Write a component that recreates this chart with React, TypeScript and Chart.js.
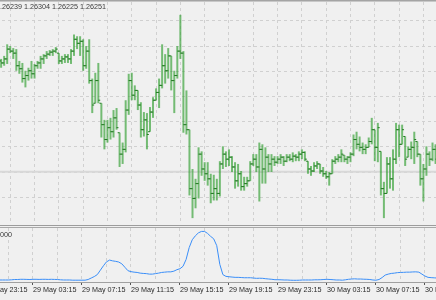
import React, { useEffect, useRef } from 'react';
import { Chart, registerables } from 'chart.js';

Chart.register(...registerables);

// ---- price bars (M15), index 0 = 29 May 00:30 ----
const HIGHS = [
  1.26699, 1.26711, 1.26757, 1.26750, 1.26742, 1.26738, 1.26691, 1.26683, 1.26652, 1.26664,
  1.26691, 1.26679, 1.26691, 1.26711, 1.26718, 1.26730, 1.26734, 1.26738, 1.26746, 1.26722,
  1.26711, 1.26718, 1.26718, 1.26738, 1.26796, 1.26789, 1.26789, 1.26777, 1.26750, 1.26777,
  1.26621, 1.26644, 1.26683, 1.26523, 1.26457, 1.26457, 1.26465, 1.26496, 1.26504, 1.26406,
  1.26367, 1.26535, 1.26640, 1.26644, 1.26594, 1.26574, 1.26527, 1.26488, 1.26484, 1.26508,
  1.26547, 1.26582, 1.26621, 1.26757, 1.26718, 1.26742, 1.26711, 1.26652, 1.26750, 1.26874,
  1.26730, 1.26574, 1.26418, 1.26262, 1.26223, 1.26348, 1.26332, 1.26289, 1.26289, 1.26243,
  1.26239, 1.26223, 1.26293, 1.26352, 1.26332, 1.26340, 1.26313, 1.26289, 1.26282, 1.26254,
  1.26231, 1.26231, 1.26293, 1.26321, 1.26321, 1.26367, 1.26360, 1.26348, 1.26321, 1.26321,
  1.26313, 1.26313, 1.26321, 1.26313, 1.26321, 1.26321, 1.26328, 1.26321, 1.26332, 1.26340,
  1.26332, 1.26293, 1.26274, 1.26289, 1.26293, 1.26282, 1.26270, 1.26254, 1.26250, 1.26301,
  1.26313, 1.26321, 1.26340, 1.26317, 1.26313, 1.26328, 1.26399, 1.26410, 1.26391, 1.26367,
  1.26360, 1.26387, 1.26465, 1.26418, 1.26445, 1.26332, 1.26211, 1.26309, 1.26309, 1.26340,
  1.26445, 1.26438, 1.26438, 1.26391, 1.26352, 1.26371, 1.26410, 1.26371, 1.26321, 1.26282,
  1.26352, 1.26332, 1.26367, 1.26360,
];
const LOWS = [
  1.26664, 1.26672, 1.26679, 1.26722, 1.26699, 1.26652, 1.26640, 1.26605, 1.26586, 1.26613,
  1.26621, 1.26621, 1.26660, 1.26660, 1.26679, 1.26699, 1.26711, 1.26711, 1.26722, 1.26679,
  1.26679, 1.26683, 1.26683, 1.26679, 1.26711, 1.26738, 1.26711, 1.26652, 1.26660, 1.26601,
  1.26484, 1.26523, 1.26523, 1.26387, 1.26340, 1.26367, 1.26379, 1.26387, 1.26418, 1.26270,
  1.26282, 1.26328, 1.26477, 1.26535, 1.26535, 1.26496, 1.26387, 1.26391, 1.26340, 1.26410,
  1.26465, 1.26535, 1.26504, 1.26582, 1.26601, 1.26621, 1.26574, 1.26484, 1.26621, 1.26699,
  1.26406, 1.26399, 1.26157, 1.26067, 1.26106, 1.26145, 1.26235, 1.26215, 1.26196, 1.26126,
  1.26137, 1.26137, 1.26153, 1.26262, 1.26270, 1.26274, 1.26250, 1.26184, 1.26192, 1.26176,
  1.26176, 1.26192, 1.26215, 1.26274, 1.26250, 1.26133, 1.26204, 1.26204, 1.26250, 1.26250,
  1.26274, 1.26282, 1.26282, 1.26274, 1.26289, 1.26293, 1.26289, 1.26293, 1.26293, 1.26301,
  1.26293, 1.26243, 1.26235, 1.26250, 1.26262, 1.26243, 1.26231, 1.26223, 1.26196, 1.26243,
  1.26282, 1.26289, 1.26289, 1.26289, 1.26282, 1.26289, 1.26313, 1.26340, 1.26332, 1.26321,
  1.26321, 1.26348, 1.26360, 1.26293, 1.26289, 1.26157, 1.26067, 1.26165, 1.26184, 1.26176,
  1.26282, 1.26309, 1.26360, 1.26274, 1.26309, 1.26301, 1.26282, 1.26309, 1.26196, 1.26133,
  1.26235, 1.26274, 1.26293, 1.26282,
];
const OPENS = [
  1.26691, 1.26683, 1.26699, 1.26738, 1.26730, 1.26722, 1.26672, 1.26660, 1.26621, 1.26633,
  1.26652, 1.26640, 1.26672, 1.26683, 1.26699, 1.26711, 1.26718, 1.26726, 1.26730, 1.26722,
  1.26691, 1.26699, 1.26707, 1.26699, 1.26730, 1.26777, 1.26761, 1.26769, 1.26672, 1.26730,
  1.26613, 1.26523, 1.26613, 1.26523, 1.26438, 1.26379, 1.26426, 1.26410, 1.26465, 1.26406,
  1.26321, 1.26340, 1.26496, 1.26613, 1.26555, 1.26574, 1.26516, 1.26418, 1.26457, 1.26410,
  1.26488, 1.26535, 1.26566, 1.26594, 1.26672, 1.26652, 1.26711, 1.26613, 1.26633, 1.26730,
  1.26722, 1.26438, 1.26418, 1.26184, 1.26145, 1.26204, 1.26321, 1.26262, 1.26243, 1.26223,
  1.26165, 1.26184, 1.26165, 1.26282, 1.26321, 1.26301, 1.26309, 1.26270, 1.26215, 1.26243,
  1.26192, 1.26204, 1.26215, 1.26282, 1.26301, 1.26270, 1.26340, 1.26262, 1.26309, 1.26282,
  1.26301, 1.26289, 1.26301, 1.26309, 1.26293, 1.26309, 1.26301, 1.26313, 1.26309, 1.26321,
  1.26328, 1.26293, 1.26262, 1.26254, 1.26274, 1.26282, 1.26254, 1.26243, 1.26231, 1.26243,
  1.26293, 1.26301, 1.26309, 1.26317, 1.26301, 1.26309, 1.26321, 1.26379, 1.26360, 1.26348,
  1.26340, 1.26348, 1.26371, 1.26418, 1.26348, 1.26332, 1.26184, 1.26165, 1.26282, 1.26223,
  1.26301, 1.26418, 1.26360, 1.26391, 1.26309, 1.26340, 1.26348, 1.26371, 1.26321, 1.26223,
  1.26262, 1.26321, 1.26301, 1.26340,
];
const CLOSES = [
  1.26683, 1.26699, 1.26738, 1.26730, 1.26722, 1.26672, 1.26660, 1.26621, 1.26633, 1.26652,
  1.26640, 1.26672, 1.26683, 1.26699, 1.26711, 1.26718, 1.26726, 1.26730, 1.26738, 1.26691,
  1.26699, 1.26707, 1.26699, 1.26730, 1.26777, 1.26761, 1.26769, 1.26672, 1.26730, 1.26613,
  1.26516, 1.26613, 1.26535, 1.26438, 1.26379, 1.26426, 1.26410, 1.26465, 1.26426, 1.26321,
  1.26340, 1.26496, 1.26613, 1.26555, 1.26574, 1.26516, 1.26418, 1.26457, 1.26399, 1.26488,
  1.26535, 1.26566, 1.26594, 1.26672, 1.26652, 1.26711, 1.26613, 1.26633, 1.26730, 1.26722,
  1.26438, 1.26418, 1.26184, 1.26145, 1.26204, 1.26321, 1.26262, 1.26243, 1.26223, 1.26165,
  1.26184, 1.26165, 1.26282, 1.26321, 1.26301, 1.26309, 1.26270, 1.26215, 1.26243, 1.26192,
  1.26204, 1.26215, 1.26282, 1.26301, 1.26270, 1.26340, 1.26262, 1.26309, 1.26282, 1.26301,
  1.26289, 1.26301, 1.26309, 1.26293, 1.26309, 1.26301, 1.26313, 1.26309, 1.26321, 1.26328,
  1.26301, 1.26262, 1.26254, 1.26274, 1.26282, 1.26254, 1.26243, 1.26231, 1.26243, 1.26293,
  1.26301, 1.26309, 1.26321, 1.26301, 1.26309, 1.26321, 1.26379, 1.26360, 1.26348, 1.26340,
  1.26348, 1.26371, 1.26418, 1.26348, 1.26426, 1.26184, 1.26165, 1.26282, 1.26223, 1.26301,
  1.26418, 1.26360, 1.26418, 1.26301, 1.26340, 1.26348, 1.26379, 1.26321, 1.26223, 1.26262,
  1.26321, 1.26301, 1.26340, 1.26301,
];

// ---- lower indicator window ----
const INDICATOR = [
  100, 100, 100, 100, 120, 150, 150, 170, 170, 160, 150, 170, 170, 160, 170, 170, 160, 170, 160, 150,
  120, 100, 100, 100, 80, 80, 80, 80, 80, 150, 300, 450, 650, 1100, 1550, 1950, 2130, 2050, 2000, 1930,
  1750, 1400, 1050, 950, 900, 870, 800, 770, 750, 700, 700, 750, 800, 870, 900, 930, 930, 1000, 1150, 1250,
  1500, 2200, 3400, 4200, 4600, 4900, 5050, 5050, 4850, 4550, 4300, 3600, 1700, 650, 470, 430, 400, 370, 370, 350,
  330, 330, 330, 300, 270, 280, 270, 230, 200, 170, 130, 130, 120, 100, 100, 80, 70, 70, 80, 100,
  100, 100, 100, 120, 120, 130, 150, 170, 150, 130, 100, 100, 80, 120, 170, 200, 220, 200, 200, 180,
  170, 150, 100, 80, 150, 350, 600, 700, 770, 800, 850, 870, 880, 900, 900, 920, 930, 900, 700, 500,
  370, 340, 320, 300,
];

// ---- axes / labels ----
const GRID_BARS = [-5, 3, 11, 19, 27, 35, 43, 51, 59, 67, 75, 83, 91, 99, 107, 115, 123, 131, 139];
const LABEL_BARS = [-5, 11, 27, 43, 59, 75, 91, 107, 123, 139];
const AXIS_LABELS = [
  '28 May 23:15', '29 May 03:15', '29 May 07:15', '29 May 11:15', '29 May 15:15',
  '29 May 19:15', '29 May 23:15', '30 May 03:15', '30 May 07:15', '30 May 11:15',
];
const PRICE_GRID = [1.2615, 1.2625, 1.2635, 1.2645, 1.2655, 1.2665, 1.2675, 1.2685];
const QUOTE = ['1.26239', '1.26304', '1.26225', '1.26251'];
const BID = 1.26251;
const INDICATOR_TEXT = '000';

// ---- layout constants ----
const BAR_PX = 3.0625;
const CANVAS_W = 500;
const SHIFT = 24;
const X_MIN = -(SHIFT - 0.7) / BAR_PX;
const X_MAX = X_MIN + CANVAS_W / BAR_PX;
const MAIN_H = 226;
const PX_PRICE = 0.000039;
const Y_MAX = 1.26925;
const Y_MIN = Y_MAX - MAIN_H * PX_PRICE;
const LOWER_H = 73;
const V_MIN = -100;
const V_MAX = 5400;
const FONT_FAMILY = '"Liberation Sans", Arial, sans-serif';
const FONT_SIZE = 7.2;
const GRID_COLOR = '#d0d0d0';

const mainDecor = {
  id: 'mainDecor',
  beforeDatasetsDraw(chart: any) {
    const { ctx, chartArea, scales } = chart;
    const y = scales.y.getPixelForValue(BID);
    ctx.save();
    ctx.strokeStyle = '#d8d8d8';
    ctx.lineWidth = 2;
    ctx.beginPath();
    ctx.moveTo(chartArea.left, y);
    ctx.lineTo(chartArea.right, y);
    ctx.stroke();
    ctx.restore();
  },
  afterDraw(chart: any) {
    const { ctx, width, height } = chart;
    ctx.save();
    ctx.fillStyle = '#a4a4a4';
    ctx.fillRect(0, 0, width, 1);
    ctx.fillStyle = '#c8c8c8';
    ctx.fillRect(0, 1, width, 1);
    ctx.fillStyle = '#9c9c9c';
    ctx.fillRect(0, height - 1, width, 1);
    ctx.font = `${FONT_SIZE}px ${FONT_FAMILY}`;
    ctx.fillStyle = '#3a3a3a';
    ctx.textBaseline = 'middle';
    const lead = ctx.measureText(QUOTE[0].slice(0, 1)).width;
    ctx.fillText(QUOTE.join(' '), SHIFT - lead, 7);
    ctx.restore();
  },
};

const lowerDecor = {
  id: 'lowerDecor',
  afterDraw(chart: any) {
    const { ctx, width, chartArea } = chart;
    ctx.save();
    ctx.fillStyle = '#a8a8a8';
    ctx.fillRect(0, 0, width, 1);
    ctx.fillStyle = '#a0a0a0';
    ctx.fillRect(0, Math.round(chartArea.bottom), width, 1);
    ctx.font = `${FONT_SIZE}px ${FONT_FAMILY}`;
    ctx.fillStyle = '#3a3a3a';
    ctx.textBaseline = 'middle';
    ctx.fillText(INDICATOR_TEXT, SHIFT, 8);
    ctx.restore();
  },
};

function xAxis(showLabels: boolean) {
  return {
    type: 'linear' as const,
    min: X_MIN,
    max: X_MAX,
    offset: false,
    bounds: 'data' as const,
    afterBuildTicks: (s: any) => {
      s.ticks = GRID_BARS.map((v) => ({ value: v }));
    },
    grid: {
      color: GRID_COLOR,
      lineWidth: 1,
      offset: false,
      drawTicks: showLabels,
      tickLength: 3,
      tickColor: (c: any) =>
        c.tick && LABEL_BARS.includes(c.tick.value) ? '#505050' : 'rgba(0,0,0,0)',
    },
    border: { display: false, dash: [3, 3] },
    ticks: {
      display: showLabels,
      autoSkip: false,
      maxRotation: 0,
      minRotation: 0,
      align: 'start' as const,
      padding: 1,
      color: '#2a2a2a',
      font: { family: FONT_FAMILY, size: FONT_SIZE },
      callback: (value: any) => {
        const k = LABEL_BARS.indexOf(value);
        return k >= 0 ? AXIS_LABELS[k] : '';
      },
    },
  };
}

export default function App() {
  const mainRef = useRef<HTMLCanvasElement>(null);
  const lowerRef = useRef<HTMLCanvasElement>(null);

  useEffect(() => {
    const idx = HIGHS.map((_, i) => i);
    const main = new Chart(mainRef.current as HTMLCanvasElement, {
      type: 'bar',
      data: {
        datasets: [
          {
            type: 'bar',
            data: idx.map((i) => ({ x: i, y: [LOWS[i], HIGHS[i]] })) as any,
            backgroundColor: 'rgba(50,160,50,0.66)',
            borderWidth: 0,
            barThickness: 2,
            inflateAmount: 0,
            order: 2,
          } as any,
          {
            type: 'line',
            data: idx.map((i) => ({ x: i - 0.3, y: OPENS[i] })),
            showLine: false,
            pointStyle: 'line',
            pointRadius: 1,
            pointHoverRadius: 0,
            pointBorderWidth: 1,
            pointBorderColor: '#237a23',
            order: 1,
          } as any,
          {
            type: 'line',
            data: idx.map((i) => ({ x: i + 0.3, y: CLOSES[i] })),
            showLine: false,
            pointStyle: 'line',
            pointRadius: 1,
            pointHoverRadius: 0,
            pointBorderWidth: 1,
            pointBorderColor: '#237a23',
            order: 1,
          } as any,
        ],
      },
      options: {
        animation: false,
        responsive: false,
        events: [],
        layout: { padding: 0 },
        plugins: { legend: { display: false }, tooltip: { enabled: false } },
        scales: {
          x: xAxis(false) as any,
          y: {
            type: 'linear',
            min: Y_MIN,
            max: Y_MAX,
            beginAtZero: false,
            bounds: 'data',
            afterBuildTicks: (s: any) => {
              s.ticks = PRICE_GRID.map((v) => ({ value: v }));
            },
            grid: { color: GRID_COLOR, lineWidth: 1, drawTicks: false },
            border: { display: false, dash: [3, 3] },
            ticks: { display: false },
          } as any,
        },
      },
      plugins: [mainDecor],
    });

    const lower = new Chart(lowerRef.current as HTMLCanvasElement, {
      type: 'line',
      data: {
        datasets: [
          {
            data: INDICATOR.map((v, i) => ({ x: i, y: v })),
            borderColor: '#3a8ef8',
            borderWidth: 1,
            pointRadius: 0,
            tension: 0,
            fill: false,
          },
        ],
      },
      options: {
        animation: false,
        responsive: false,
        events: [],
        layout: { padding: { top: 1, bottom: 4.4, left: 0, right: 0 } },
        plugins: { legend: { display: false }, tooltip: { enabled: false } },
        scales: {
          x: xAxis(true) as any,
          y: { type: 'linear', display: false, min: V_MIN, max: V_MAX },
        },
      },
      plugins: [lowerDecor],
    });

    return () => {
      main.destroy();
      lower.destroy();
    };
  }, []);

  return (
    <div
      style={{
        position: 'fixed',
        left: 0,
        top: 0,
        width: 436,
        height: 300,
        overflow: 'hidden',
        background: '#f0f0f0',
      }}
    >
      <canvas
        ref={mainRef}
        width={CANVAS_W}
        height={MAIN_H}
        style={{ position: 'absolute', left: -SHIFT, top: 0 }}
      />
      <canvas
        ref={lowerRef}
        width={CANVAS_W}
        height={LOWER_H}
        style={{ position: 'absolute', left: -SHIFT, top: MAIN_H + 1 }}
      />
    </div>
  );
}
